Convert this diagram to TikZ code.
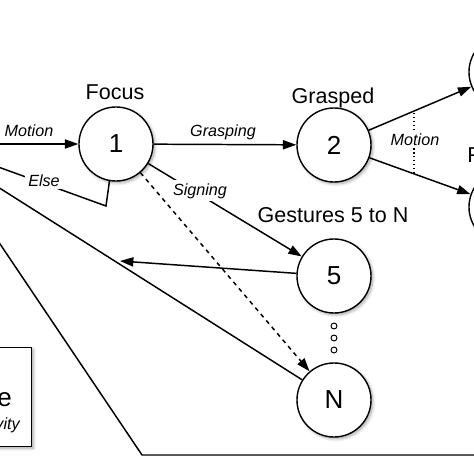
\documentclass[tikz,border=0pt]{standalone}
\usepackage{fontspec}
\setmainfont{Liberation Sans}
\usetikzlibrary{arrows.meta,shadows.blur}

\tikzset{
  state/.style={draw, circle, line width=1pt, fill=white, minimum size=1.85cm, inner sep=0pt,
    font=\fontsize{18.5}{20}\selectfont,
    blur shadow={shadow xshift=1.3pt, shadow yshift=-1.3pt, shadow blur steps=6, shadow opacity=35}},
  idlebox/.style={draw, rectangle, line width=1pt, fill=white, minimum width=3.275cm, minimum height=2.475cm,
    blur shadow={shadow xshift=1.3pt, shadow yshift=-1.3pt, shadow blur steps=6, shadow opacity=35}},
  title/.style={anchor=base, font=\fontsize{15.3}{18}\selectfont},
  cond/.style={anchor=base, font=\fontsize{11.5}{13}\selectfont\itshape},
  gap/.style={fill=white, inner sep=2pt},
  edge/.style={line width=1.05pt, -{Triangle[length=9.5pt,width=6.5pt]}},
  link/.style={line width=1.05pt}
}

\begin{document}
\begin{tikzpicture}[x=0.025cm, y=-0.025cm]
	\useasboundingbox (0,0) rectangle (474,474);

	% states
	\node[state] (s1) at (116,144) {1};
	\node[state] (s2) at (334,145) {2};
	\node[state] (s5) at (334,276) {5};
	\node[state] (sN) at (334,400) {N};
	\node[state] (s3) at (506,72) {};
	\node[state] (s4) at (506,207) {};
	\node[idlebox] (idle) at (-34,397) {};

	% state titles
	\node[title] (tFocus) at (115,99) {Focus};
	\node[title] (tGrasped) at (333,103) {Grasped};
	\node[title] (tGest) at (333,222) {Gestures 5 to N};
	\node[title, anchor=base west, inner sep=0pt] (tF) at (467,162) {F};
	\node[anchor=base east, inner sep=0pt, font=\fontsize{18.5}{20}\selectfont] (idleName) at (12,406) {e};
	\node[cond, anchor=base east, inner sep=0pt] (idleSub) at (20,429) {vity};

	% free ends
	\coordinate (inM) at (-10,144);
	\coordinate (elseBend) at (106,206);
	\coordinate (outElse) at (-10,164);
	\coordinate (outN) at (-10,182);
	\coordinate (out5) at (120,261);
	\coordinate (far) at (490,455);
	\coordinate (bend) at (142,455);
	\coordinate (outFar) at (-6,235);
	\coordinate (topM) at (414,113);
	\coordinate (botM) at (414,174);

	% transitions
	\draw[edge] (inM) -- (s1);
	\draw[edge] (s1) -- (s2);
	\draw[edge] (s1) -- (s5);
	\draw[edge, dashed] (s1) -- (sN);
	\draw[edge] (s5) -- (out5);
	\draw[link] (sN) -- (outN);
	\draw[link] (s1.-100) -- (elseBend) -- (outElse);
	\draw[link] (far) -- (bend) -- (outFar);
	\draw[edge] (s2) -- (s3);
	\draw[edge] (s2) -- (s4);
	\draw[dotted, line width=0.8pt] (topM) -- (botM);

	% gesture dots
	\foreach \y in {326,338,350}
		\draw[line width=0.7pt, fill=white] (334,\y) circle[radius=2.1pt];

	% conditions
	\node[cond] (lMotion) at (29,136) {Motion};
	\node[cond] (lGrasp) at (223,136) {Grasping};
	\node[cond, gap] (lElse) at (44,186) {Else};
	\node[cond, gap] (lSign) at (200,195) {Signing};
	\node[cond, gap] (lMotionB) at (415,145) {Motion};
\end{tikzpicture}
\end{document}
